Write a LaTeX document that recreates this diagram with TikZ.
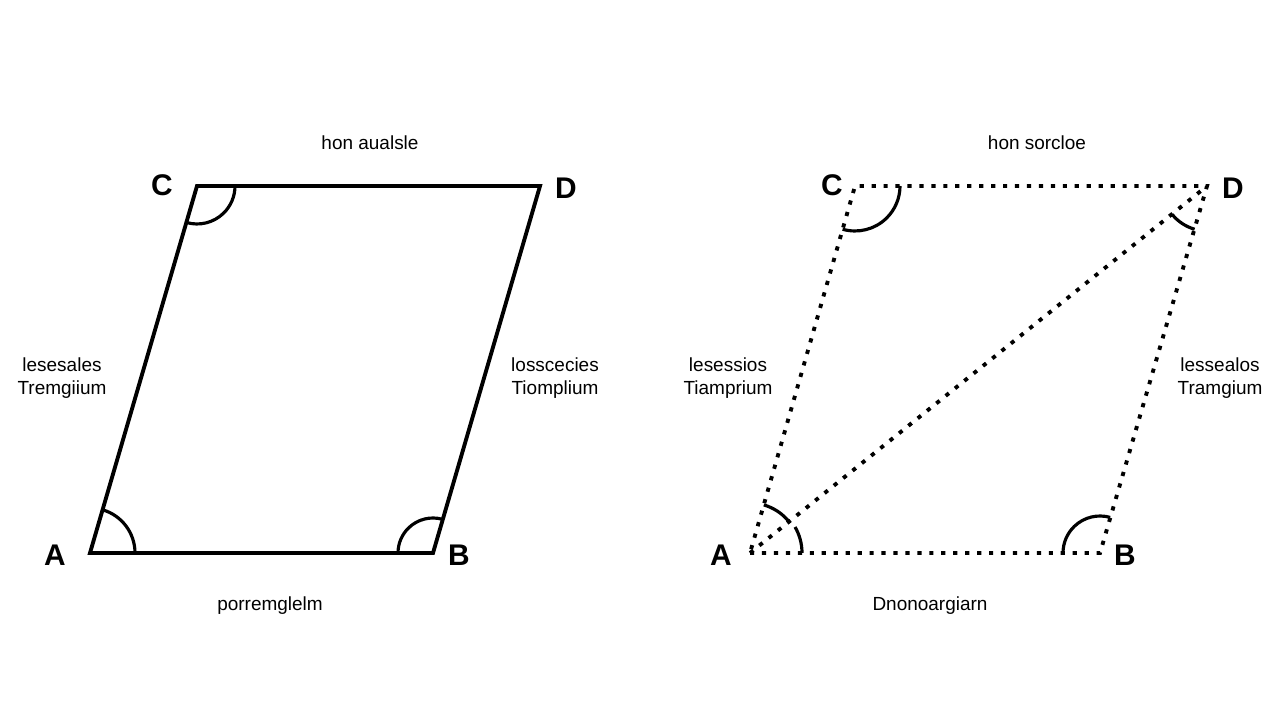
\documentclass[tikz,border=0pt]{standalone}
\usepackage{fontspec}
\setmainfont{Liberation Sans}
\begin{document}
\begin{tikzpicture}[
  solidl/.style={line width=1.1pt},
  dotl/.style={line width=1.1pt, dash pattern=on 1.2pt off 2.2pt},
  arcl/.style={line width=0.9pt},
  vlab/.style={font=\fontsize{8.5}{9}\selectfont\bfseries},
  tlab/.style={font=\fontsize{5.4}{6.6}\selectfont, align=center}]
\useasboundingbox (0,0) rectangle (12.8,7.2);
% left
\coordinate (A) at (0.90,1.67); \coordinate (B) at (4.33,1.67);
\coordinate (D) at (5.40,5.34); \coordinate (C) at (1.97,5.34);
\draw[solidl] (A) -- (B) -- (D) -- (C) -- cycle;
\draw[arcl] ([shift={(0:0.45)}]A) arc (0:74:0.45);
\draw[arcl] ([shift={(74:0.35)}]B) arc (74:180:0.35);
\draw[arcl] ([shift={(254:0.38)}]C) arc (254:360:0.38);
\node[vlab] (la) at (0.55,1.65) {A};
\node[vlab] (lb) at (4.59,1.65) {B};
\node[vlab] (lc) at (1.62,5.35) {C};
\node[vlab] (ld) at (5.66,5.32) {D};
\node[tlab] (t1) at (3.70,5.77) {hon aualsle};
\node[tlab] (t2) at (0.62,3.42) {lesesales\\Tremgiium};
\node[tlab] (t3) at (5.55,3.42) {losscecies\\Tiomplium};
\node[tlab] (t4) at (2.70,1.14) {porremglelm};
% right
\coordinate (A2) at (7.50,1.67); \coordinate (B2) at (11.00,1.67);
\coordinate (D2) at (12.07,5.34); \coordinate (C2) at (8.55,5.34);
\draw[dotl] (A2) -- (B2) -- (D2) -- (C2) -- cycle;
\draw[dotl] (A2) -- (D2);
\draw[arcl] ([shift={(39:0.50)}]A2) arc (39:74:0.50);
\draw[arcl] ([shift={(0:0.52)}]A2) arc (0:30:0.52);
\draw[arcl] ([shift={(74:0.37)}]B2) arc (74:180:0.37);
\draw[arcl] ([shift={(254:0.45)}]C2) arc (254:360:0.45);
\draw[arcl] ([shift={(219:0.45)}]D2) arc (219:254:0.45);
\node[vlab] (la2) at (7.21,1.65) {A};
\node[vlab] (lb2) at (11.25,1.65) {B};
\node[vlab] (lc2) at (8.32,5.35) {C};
\node[vlab] (ld2) at (12.33,5.32) {D};
\node[tlab] (u1) at (10.37,5.77) {hon sorcloe};
\node[tlab] (u2) at (7.28,3.42) {lesessios\\Tiamprium};
\node[tlab] (u3) at (12.20,3.42) {lessealos\\Tramgium};
\node[tlab] (u4) at (9.30,1.14) {Dnonoargiarn};
\end{tikzpicture}
\end{document}
